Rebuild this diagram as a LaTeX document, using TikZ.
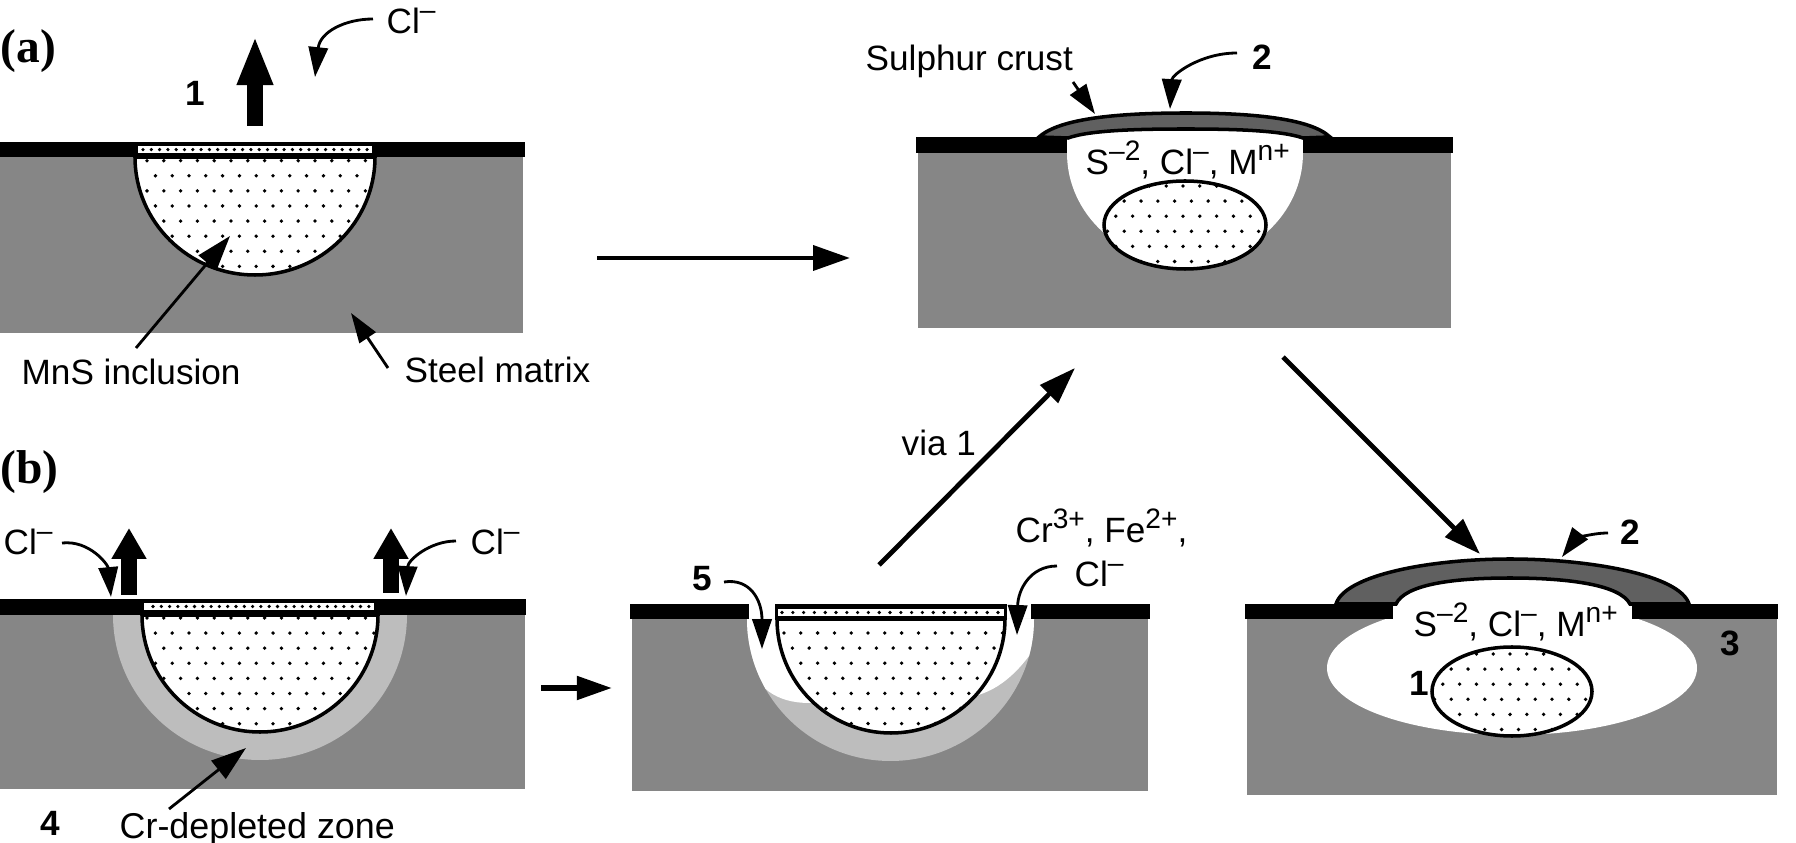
\documentclass[tikz,border=0pt]{standalone}
\usepackage{fontspec}
\setmainfont{Liberation Sans}
\newfontfamily\headfont{Liberation Serif}
\usetikzlibrary{arrows.meta}

\definecolor{matrixgray}{HTML}{868686}
\definecolor{crustgray}{HTML}{606060}
\definecolor{zonegray}{HTML}{BDBDBD}

\newcommand{\upidx}[1]{\raisebox{0.42em}[0.75em][0pt]{\fontsize{8}{8}\selectfont #1}}
% x0, y0, cols, rows
\newcommand{\dotrows}[4]{
  \foreach \r in {0,...,#4}
    \foreach \c in {0,...,#3}
      \fill ({#1+16.8*\c+8.4*mod(\r,2)},{#2+15.1*\r}) circle (1.9);
}
% one row of dots in the strip: x0, y, step, cols
\newcommand{\dotstrip}[4]{
  \foreach \c in {0,...,#4}
    \fill ({#1+#3*\c},#2) circle (1.8);
}
% half ellipse with dots: cx, top, rx, ry, x0, y0
\newcommand{\bowlpart}[6]{
  \fill[white] ({#1-#3},#2) arc[start angle=180,end angle=0,x radius=#3,y radius=#4] -- cycle;
  \begin{scope}
    \clip ({#1-#3},#2) arc[start angle=180,end angle=0,x radius=#3,y radius=#4] -- cycle;
    \dotrows{#5}{#6}{15}{8}
  \end{scope}
  \draw[edge] ({#1-#3},#2) arc[start angle=180,end angle=0,x radius=#3,y radius=#4] -- cycle;
}
% full ellipse with dots: cx, cy, rx, ry, x0, y0
\newcommand{\lumppart}[6]{
  \fill[white] (#1,#2) ellipse [x radius=#3,y radius=#4];
  \begin{scope}
    \clip (#1,#2) ellipse [x radius=#3,y radius=#4];
    \dotrows{#5}{#6}{10}{6}
  \end{scope}
  \draw[edge] (#1,#2) ellipse [x radius=#3,y radius=#4];
}

\begin{document}
\begin{tikzpicture}[x=0.01cm,y=-0.01cm,
    edge/.style={draw=black,line width=1pt},
    lbl/.style={inner sep=0pt,anchor=base west},
    num/.style={inner sep=0pt,font=\bfseries},
    panel/.style={inner sep=0pt,anchor=base west,font=\headfont\bfseries\fontsize{13.5}{15}\selectfont},
    lead/.style={-{Triangle[length=8.5pt,width=5.5pt]},line width=0.8pt},
    leadbig/.style={-{Triangle[length=10pt,width=6.5pt]},line width=0.8pt},
    flow/.style={-{Triangle[length=10.5pt,width=7pt]},line width=1.35pt},
    flowbig/.style={-{Triangle[length=10pt,width=6.5pt]},line width=1.6pt},
    blockup/.style={-{Triangle[length=14pt,width=9.4pt]},line width=4.5pt},
    blockshort/.style={-{Triangle[length=8.8pt,width=9.4pt]},line width=4.5pt}
  ]
  \useasboundingbox (0,0) rectangle (1796,843);

  % (a) first stage
  \fill[matrixgray] (0,157) rectangle (523,333);
  \bowlpart{255}{157}{120}{118}{147}{160.7}
  \fill (0,142) rectangle (525,157);
  \fill[white] (138,146) rectangle (372,153);
  \dotstrip{143}{149.6}{8.3}{27}

  % (a) second stage
  \fill[matrixgray] (918,153) rectangle (1451,328);
  \fill[white] (1067,153) arc[start angle=180,end angle=0,x radius=118,y radius=110] -- cycle;
  \fill (916,137) rectangle (1067,153);
  \fill (1303,137) rectangle (1453,153);
  \filldraw[fill=crustgray,edge] (1039,137) .. controls (1060,118) and (1120,113) .. (1186,113)
    .. controls (1250,113) and (1310,118) .. (1330,137) -- (1303,138)
    .. controls (1280,130) and (1230,129) .. (1186,129)
    .. controls (1140,129) and (1090,130) .. (1068,138) -- cycle;
  \lumppart{1185}{225}{81}{44}{1099}{186}

  % (b) first stage
  \fill[matrixgray] (0,615) rectangle (525,789);
  \fill[zonegray] (113,615) arc[start angle=180,end angle=0,x radius=147,y radius=145] -- cycle;
  \bowlpart{260}{615}{118}{117}{147}{618}
  \fill (0,599) rectangle (526,615);
  \fill[white] (144,603) rectangle (374,610);
  \dotstrip{153}{606.5}{8.3}{26}

  % (b) second stage
  \fill[matrixgray] (632,619) rectangle (1148,791);
  \fill[zonegray] (747,619) arc[start angle=180,end angle=0,x radius=143.5,y radius=142] -- cycle;
  \begin{scope}
    \clip (747,619) arc[start angle=180,end angle=0,x radius=143.5,y radius=142] -- cycle;
    \fill[white] (740,610) -- (740,655) .. controls (758,688) and (775,703) .. (810,703)
      -- (964,698) .. controls (990,695) and (1015,680) .. (1040,640) -- (1040,610) -- cycle;
  \end{scope}
  \fill (630,604) rectangle (749,619);
  \fill (1031,604) rectangle (1150,619);
  \bowlpart{891}{619}{114}{114}{784}{633}
  \fill (775,604) rectangle (1007,620);
  \fill[white] (778,609) rectangle (1004,616);
  \dotstrip{782}{612.5}{10.8}{20}

  % third stage
  \fill[matrixgray] (1247,619) rectangle (1777,795);
  \fill[white] (1512,668) ellipse [x radius=185,y radius=67];
  \fill (1245,604) rectangle (1393,619);
  \fill (1632,604) rectangle (1778,619);
  \filldraw[fill=crustgray,edge] (1336,604) .. controls (1345,575) and (1430,559) .. (1510,559)
    .. controls (1590,559) and (1680,575) .. (1689,604) -- (1630,604)
    .. controls (1620,585) and (1570,578) .. (1510,578)
    .. controls (1450,578) and (1405,585) .. (1396,604) -- cycle;
  \lumppart{1512}{691.5}{80}{44.5}{1426}{654}

  % labels
  \node[panel] (tagA) at (0,63) {(a)};
  \node[panel] (tagB) at (0,484) {(b)};
  \node[lbl] (clA) at (386,34) {Cl\upidx{–}};
  \node[num] (oneA) at (195,93) {1};
  \node[lbl] (mns) at (21,385) {MnS inclusion};
  \node[lbl] (steel) at (404,383) {Steel matrix};
  \node[lbl] (crust) at (865,71) {Sulphur crust};
  \node[num] (twoA) at (1262,57) {2};
  \node[lbl] (ionsA) at (1085,175) {S\upidx{–2}, Cl\upidx{–}, M\upidx{n+}};
  \node[lbl] (via) at (901,456) {via 1};
  \node[lbl] (clL) at (3,555) {Cl\upidx{–}};
  \node[lbl] (clR) at (470,555) {Cl\upidx{–}};
  \node[num] (four) at (50,823) {4};
  \node[lbl,font=\fontsize{10.2}{11}\selectfont] (zone) at (119,839) {Cr-depleted zone};
  \node[num] (five) at (702,579) {5};
  \node[lbl] (ionsB) at (1015,543) {Cr\upidx{3+}, Fe\upidx{2+},};
  \node[lbl] (clB) at (1074,587) {Cl\upidx{–}};
  \node[num] (twoC) at (1630,532) {2};
  \node[lbl] (ionsC) at (1413,637) {S\upidx{–2}, Cl\upidx{–}, M\upidx{n+}};
  \node[num] (oneC) at (1419,683) {1};
  \node[num] (three) at (1730,643) {3};

  % free ends of the connectors
  \coordinate (upAa) at (255,126);   \coordinate (upAb) at (255,36);
  \coordinate (clAa) at (373,19);    \coordinate (clAb) at (315,77);
  \coordinate (mnsa) at (136,348);   \coordinate (mnsb) at (230,236);
  \coordinate (steela) at (388,368); \coordinate (steelb) at (351,313);
  \coordinate (crusta) at (1073,82); \coordinate (crustb) at (1095,114);
  \coordinate (twoAa) at (1237,53);  \coordinate (twoAb) at (1170,109);
  \coordinate (stepAa) at (597,258); \coordinate (stepAb) at (850,258);
  \coordinate (stepBa) at (541,688); \coordinate (stepBb) at (612,688);
  \coordinate (viaa) at (879,565);   \coordinate (viab) at (1075,368);
  \coordinate (stepCa) at (1283,357);\coordinate (stepCb) at (1480,554);
  \coordinate (upLa) at (129,595);   \coordinate (upLb) at (129,528);
  \coordinate (upRa) at (391,593);   \coordinate (upRb) at (391,528);
  \coordinate (clLa) at (62,543);    \coordinate (clLb) at (111,597);
  \coordinate (clRa) at (456,541);   \coordinate (clRb) at (406,596);
  \coordinate (zonea) at (169,809);  \coordinate (zoneb) at (246,748);
  \coordinate (fivea) at (724,582);  \coordinate (fiveb) at (762,649);
  \coordinate (clBa) at (1057,566);  \coordinate (clBb) at (1017,635);
  \coordinate (twoCa) at (1608,533); \coordinate (twoCb) at (1562,557);

  % connectors
  \draw[blockup] (upAa) -- (upAb);
  \draw[blockshort] (upLa) -- (upLb);
  \draw[blockshort] (upRa) -- (upRb);
  \draw[lead] (clAa) .. controls (345,19) and (320,32) .. (clAb);
  \draw[leadbig] (mnsa) -- (mnsb);
  \draw[lead] (steela) -- (steelb);
  \draw[lead] (crusta) -- (crustb);
  \draw[lead] (twoAa) .. controls (1200,53) and (1172,75) .. (twoAb);
  \draw[flow] (stepAa) -- (stepAb);
  \draw[flowbig] (stepBa) -- (stepBb);
  \draw[flow] (viaa) -- (viab);
  \draw[flow] (stepCa) -- (stepCb);
  \draw[lead] (clLa) .. controls (90,540) and (108,565) .. (clLb);
  \draw[lead] (clRa) .. controls (430,541) and (408,560) .. (clRb);
  \draw[leadbig] (zonea) -- (zoneb);
  \draw[lead] (fivea) .. controls (750,578) and (762,600) .. (fiveb);
  \draw[lead] (clBa) .. controls (1030,566) and (1018,590) .. (clBb);
  \draw[lead] (twoCa) .. controls (1590,533) and (1575,540) .. (twoCb);
\end{tikzpicture}
\end{document}
